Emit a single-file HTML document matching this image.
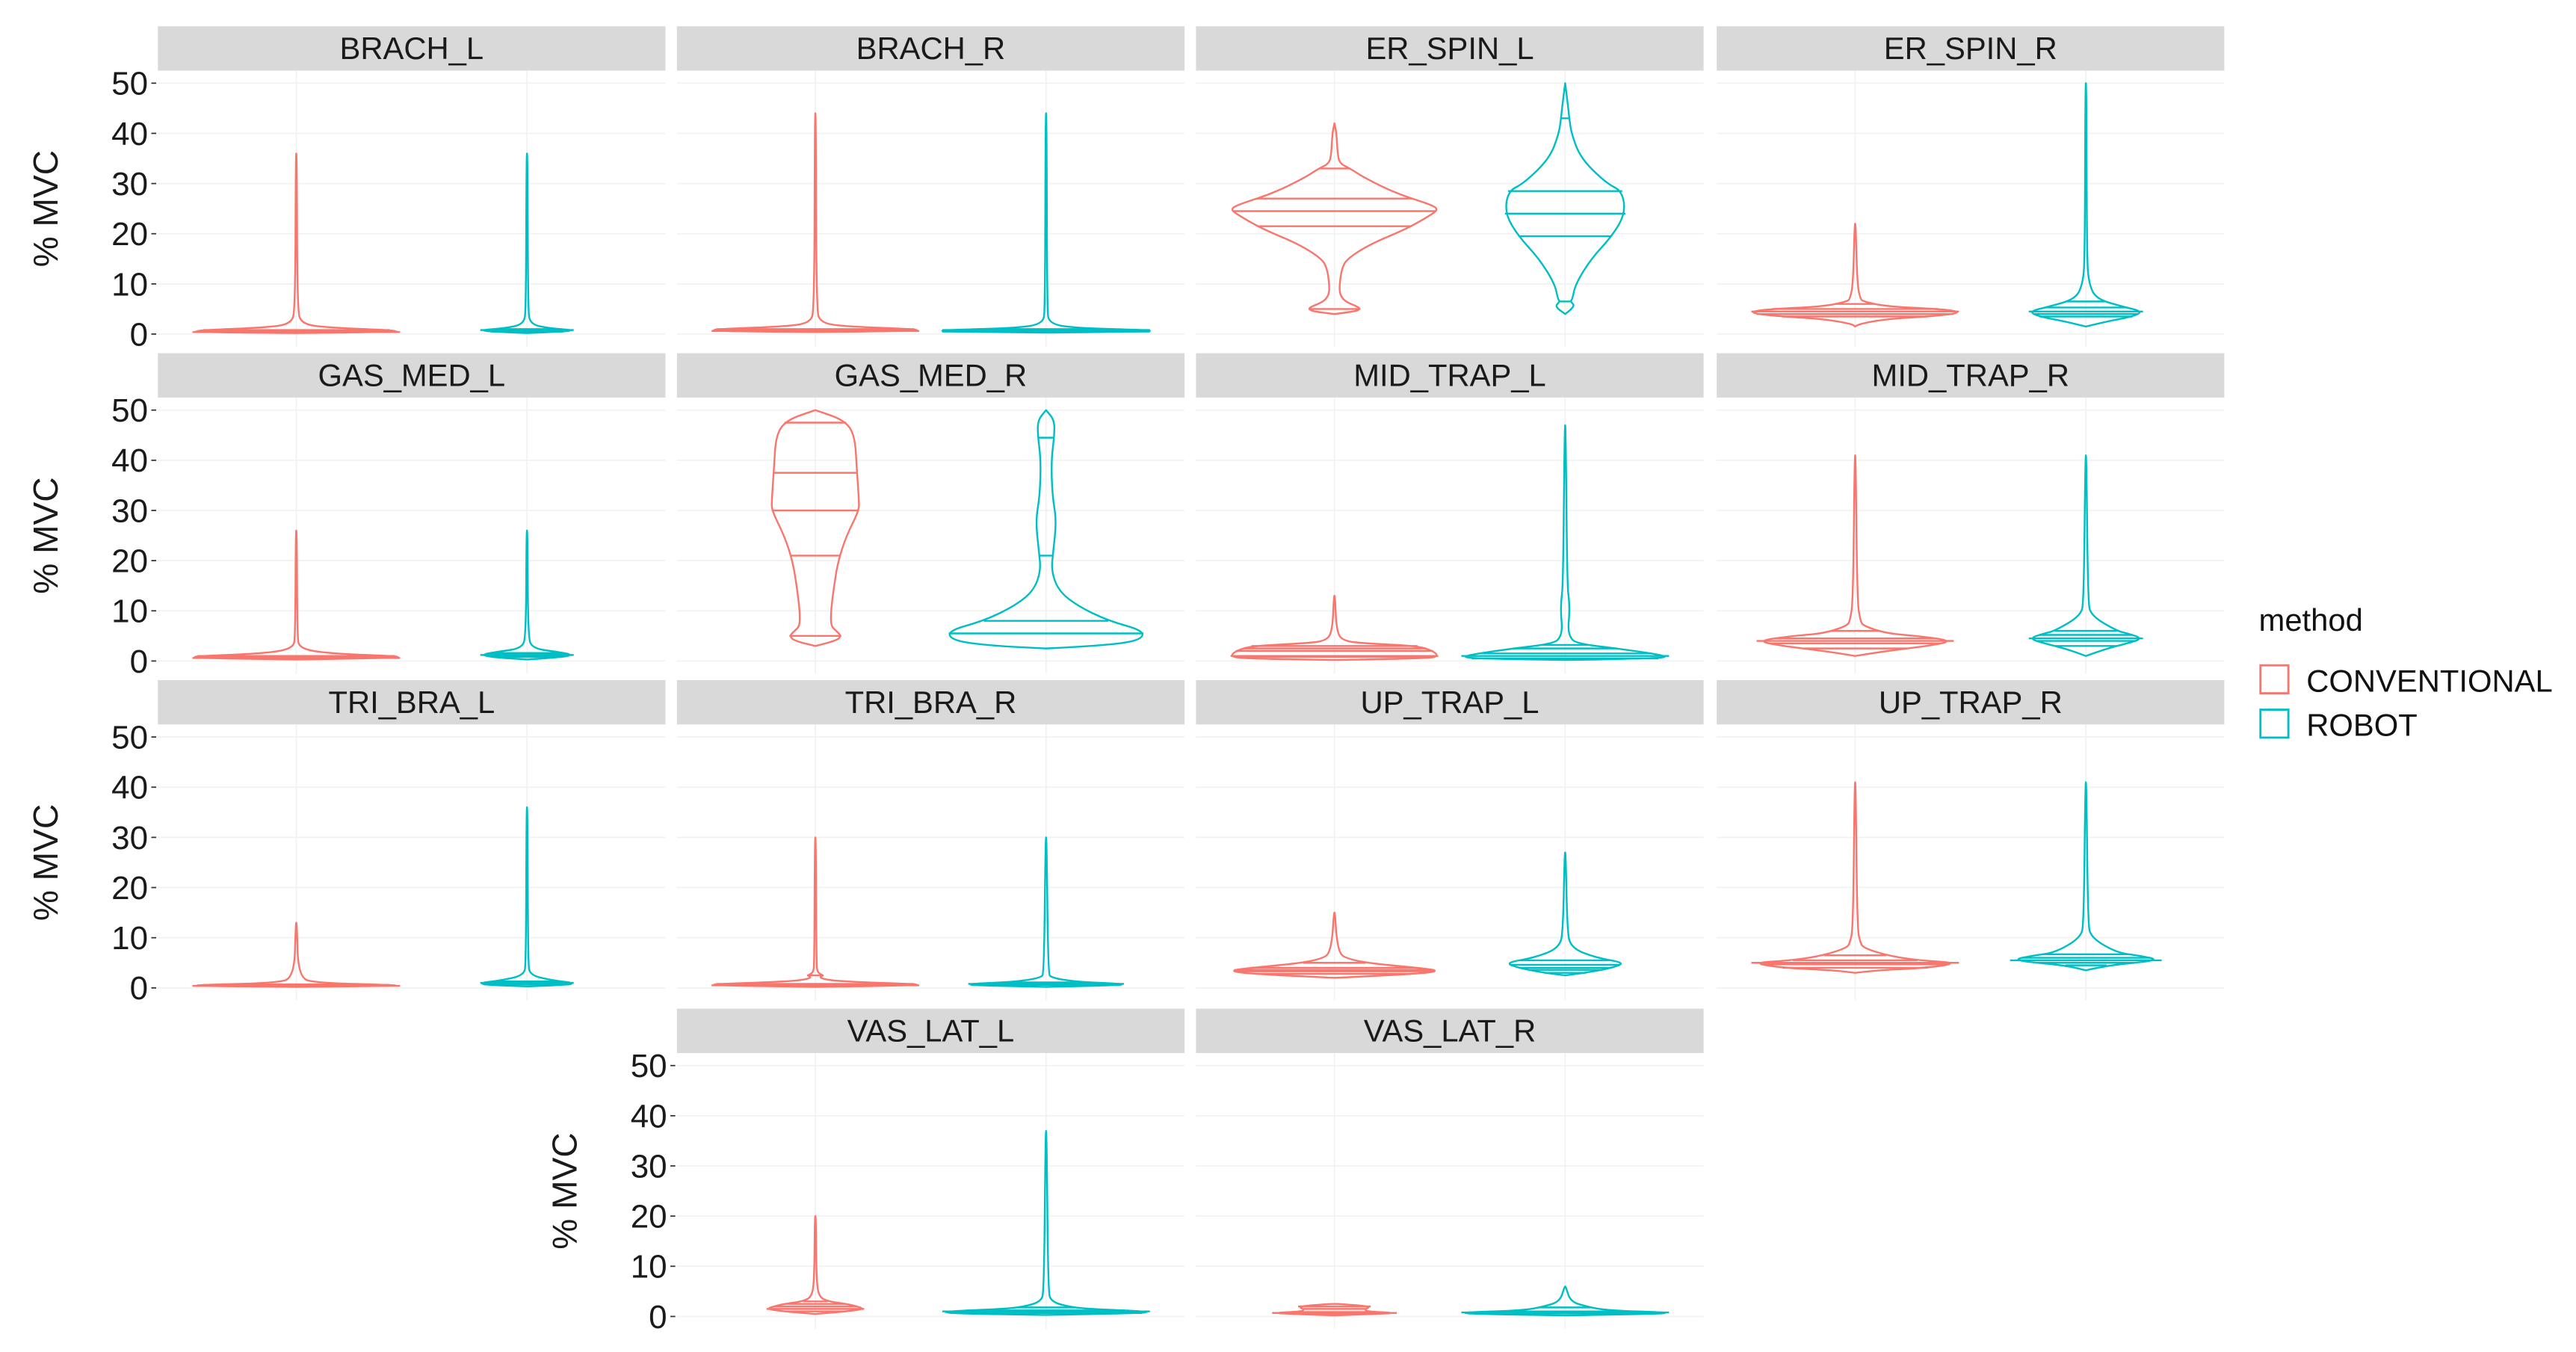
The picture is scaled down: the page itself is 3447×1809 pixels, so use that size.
<!DOCTYPE html>
<html><head><meta charset="utf-8"><style>
html,body{margin:0;padding:0;background:#fff}
svg{display:block}
</style></head><body>
<svg id="chart" xmlns="http://www.w3.org/2000/svg" width="3447" height="1809" viewBox="0 0 1568 823">
<rect x="0" y="0" width="1568" height="823" fill="#fff"/>
<g id="panels"></g>
<g id="legend">
  <text x="1375" y="384" font-family="Liberation Sans, sans-serif" font-size="19" fill="#111">method</text>
  <rect x="1376" y="405" width="17" height="17" fill="#fff" stroke="#F8766D" stroke-width="1.3"/>
  <text x="1404" y="421" font-family="Liberation Sans, sans-serif" font-size="19" fill="#111">CONVENTIONAL</text>
  <rect x="1376" y="432" width="17" height="17" fill="#fff" stroke="#00BFC4" stroke-width="1.3"/>
  <text x="1404" y="448" font-family="Liberation Sans, sans-serif" font-size="19" fill="#111">ROBOT</text>
</g>
</svg>
<script>
const panelNames = ["BRACH_L","BRACH_R","ER_SPIN_L","ER_SPIN_R","GAS_MED_L","GAS_MED_R","MID_TRAP_L","MID_TRAP_R","TRI_BRA_L","TRI_BRA_R","UP_TRAP_L","UP_TRAP_R","VAS_LAT_L","VAS_LAT_R"];
const yTicks = [0,10,20,30,40,50];
const yTickLabels = ["0","10","20","30","40","50"];
const convValues = [
 [0.2,0.4,0.8,1.3,2,5,36],
 [0.4,0.6,1.0,1.5,2.2,5,44],
 [4,4.5,5,5.5,6.5,8,10,13,15,18,21,24,25,26,28,31,33,34,36,40,42],
 [1.5,2,3,3.5,4,4.5,5,5.5,6.5,7,10,22],
 [0.3,0.6,1,1.5,2.5,5,26],
 [3,4,5,6,7,10,15,20,25,30,32,38,45,48,50],
 [0.2,0.5,1,2,3,3.5,4,6,13],
 [1,2,3,4,5,5.5,7,8,12,41],
 [0.2,0.4,0.6,1,2,13],
 [0.2,0.5,0.8,1.3,2,2.5,3,5,30],
 [2,2.5,3,3.5,4,5,6,7,10,15],
 [3,3.5,4,5,5.5,6.5,8,9,12,41],
 [0.5,1,1.5,2,2.5,3,4,8,20],
 [0.2,0.5,0.7,1,1.5,2,2.5,2.5]
];
const convWidths = [
 [0,1.0,0.9,0.3,0.05,0.01,0.005],
 [0,1.0,0.95,0.3,0.05,0.01,0.005],
 [0,0.2,0.25,0.22,0.1,0.05,0.05,0.07,0.12,0.35,0.7,0.95,1.0,0.9,0.6,0.3,0.15,0.05,0.03,0.02,0],
 [0,0.03,0.3,0.7,0.95,1.0,0.8,0.3,0.08,0.05,0.02,0.005],
 [0,1.0,0.95,0.3,0.03,0.01,0.005],
 [0,0.2,0.25,0.2,0.15,0.15,0.18,0.22,0.3,0.42,0.42,0.4,0.38,0.28,0],
 [0,0.9,1.0,0.95,0.8,0.3,0.08,0.02,0.005],
 [0,0.3,0.7,0.95,0.6,0.3,0.08,0.05,0.02,0.005],
 [0,1.0,0.9,0.2,0.02,0.005],
 [0,1.0,0.95,0.2,0.03,0.08,0.02,0.01,0.005],
 [0,0.5,0.9,1.0,0.8,0.3,0.1,0.05,0.02,0.005],
 [0,0.2,0.7,1.0,0.6,0.3,0.08,0.05,0.02,0.005],
 [0,0.3,0.47,0.4,0.3,0.12,0.03,0.01,0.005],
 [0,0.4,0.6,0.3,0.3,0.35,0.05,0]
];
const convQuantiles = [
 [0.4,0.5,0.6,0.7,0.8],[0.6,0.7,0.8,0.9,1.0],[5,21.5,24.5,27,33],[3.5,4,4.5,5,6],
 [0.6,0.7,0.8,0.9,1.0],[5,21,30,37.5,47.5],[0.8,1,2,2.5,3],[2.5,3.5,4,4.5,6],
 [0.3,0.4,0.5,0.6,0.7],[0.5,0.6,0.7,0.8,2.5],[2.8,3.3,3.6,4,5],[4,4.7,5,5.5,6.5],
 [1,1.5,2,2.5,3],[0.5,0.7,0.9,1.5,2]
];
const robotValues = [
 [0.2,0.5,0.8,1.2,2,5,36],
 [0.3,0.5,0.8,1.2,2,5,44],
 [4,5.5,6.5,7,10,15,19.5,24,28.5,30,35,40,43,45,50],
 [1.5,2.5,3.5,4.5,5.5,7,10,15,50],
 [0.3,0.7,1.2,1.8,2.5,5,26],
 [2.5,3,4,6,8,11,14,18,22,28,33,40,45,48,50],
 [0.2,0.5,1,2.5,3.5,5,7,9,12,15,47],
 [1,2.5,3.5,4.5,5.5,6,9,12,41],
 [0.3,0.6,1,1.5,2.5,5,36],
 [0.2,0.5,0.8,1.2,2,3,30],
 [2.5,3,4,5,6,8,12,27],
 [3.5,4.5,5.5,6.5,7,10,13,41],
 [0.3,0.6,1,1.5,2,3,5,37],
 [0.2,0.5,0.8,1.2,2,3,6]
];
const robotWidths = [
 [0,0.35,0.45,0.2,0.03,0.01,0.005],
 [0,1.0,1.0,0.3,0.03,0.01,0.005],
 [0,0.1,0.05,0.07,0.1,0.25,0.45,0.58,0.55,0.4,0.15,0.06,0.04,0.03,0],
 [0,0.2,0.45,0.55,0.35,0.1,0.03,0.01,0.005],
 [0,0.3,0.45,0.3,0.05,0.01,0.005],
 [0,0.5,0.9,0.95,0.6,0.3,0.12,0.05,0.07,0.1,0.06,0.05,0.08,0.08,0],
 [0,0.9,1.0,0.5,0.1,0.04,0.03,0.04,0.04,0.02,0.005],
 [0,0.2,0.4,0.55,0.4,0.3,0.05,0.02,0.005],
 [0,0.4,0.45,0.25,0.03,0.01,0.005],
 [0,0.7,0.75,0.3,0.05,0.02,0.005],
 [0,0.2,0.45,0.58,0.3,0.05,0.02,0.005],
 [0,0.2,0.73,0.5,0.3,0.05,0.02,0.005],
 [0,0.9,1.0,0.4,0.2,0.05,0.02,0.005],
 [0,0.9,1.0,0.4,0.2,0.05,0.005]
];
const robotQuantiles = [
 [0.5,0.6,0.7,0.8,1.0],[0.5,0.6,0.7,0.8,1.0],[6.5,19.5,24,28.5,43],[3.5,4,4.5,5.3,6.5],
 [0.8,1,1.2,1.4,1.6],[2.5,5.5,8,21,44.5],[0.5,1,1.5,2.5,3.2],[3,4,4.5,5.2,6],
 [0.7,0.9,1,1.1,1.3],[0.6,0.7,0.8,0.9,1.1],[3,3.6,4,4.6,5.5],[4.5,5,5.5,6,6.7],
 [0.7,0.9,1,1.2,1.8],[0.6,0.7,0.8,1,1.8]
];

const rowTops=[43,242,441,641], colLefts=[96,412,728,1045];
const PW=309, PH=168;
const NS="http://www.w3.org/2000/svg";
const root=document.getElementById('panels');
function mk(tag,attrs,parent){const e=document.createElementNS(NS,tag);for(const k in attrs)e.setAttribute(k,attrs[k]);parent.appendChild(e);return e;}
function interp(vals,ws,v){if(v<=vals[0])return ws[0];for(let i=1;i<vals.length;i++){if(v<=vals[i]){const t=(v-vals[i-1])/((vals[i]-vals[i-1])||1);return ws[i-1]+t*(ws[i]-ws[i-1]);}}return ws[ws.length-1];}
// smooth path through points via midpoint quadratic curves
function smooth(pts){
  let d='M'+pts[0][0].toFixed(2)+','+pts[0][1].toFixed(2);
  for(let i=1;i<pts.length-1;i++){
    const mx=(pts[i][0]+pts[i+1][0])/2, my=(pts[i][1]+pts[i+1][1])/2;
    d+='Q'+pts[i][0].toFixed(2)+','+pts[i][1].toFixed(2)+' '+mx.toFixed(2)+','+my.toFixed(2);
  }
  const l=pts[pts.length-1];
  d+='L'+l[0].toFixed(2)+','+l[1].toFixed(2);
  return d;
}

panelNames.forEach((name,p)=>{
  let r=Math.floor(p/4), c=p%4;
  if(p>=12){r=3;c=p-11;}
  const L=colLefts[c], T=rowTops[r];
  const ys=v=>T+(52.5-v)/55*PH;
  const xs=k=>L+(k-0.4)/2.2*PW;
  const maxHW=0.45*PW/2.2;
  const g=mk('g',{},root);
  
  
  const s=mk('rect',{x:L,y:T-27,width:PW,height:27,fill:'#d9d9d9'},g);
  
  
  const st=mk('text',{x:L+PW/2,y:T-7,'text-anchor':'middle','font-family':'Liberation Sans Narrow, Liberation Sans, sans-serif','font-size':'19',fill:'#1a1a1a'},g);
  st.textContent=name;
  
  
  yTicks.forEach(t=>{const gl=mk('line',{x1:L,x2:L+PW,y1:ys(t),y2:ys(t),stroke:'#f2f2f2','stroke-width':'0.8'},g);
    });
  [1,2].forEach(k=>{const gl=mk('line',{x1:xs(k),x2:xs(k),y1:T,y2:T+PH,stroke:'#f2f2f2','stroke-width':'0.8'},g);
    });
  if(c===0||p===12){
    yTicks.forEach((t,i)=>{
      const tk=mk('line',{x1:L-4,x2:L-1,y1:ys(t),y2:ys(t),stroke:'#333','stroke-width':'0.8'},g);
      
      const tl=mk('text',{x:L-6,y:ys(t)+7,'text-anchor':'end','font-family':'Liberation Sans Narrow, Liberation Sans, sans-serif','font-size':'20',fill:'#1a1a1a'},g);
      tl.textContent=yTickLabels[i];
      
    });
    const yt=mk('text',{x:0,y:0,'text-anchor':'middle','font-family':'Liberation Sans, sans-serif','font-size':'21',fill:'#1a1a1a',transform:`translate(${L-61},${T+PH/2}) rotate(-90)`},g);
    yt.textContent='% MVC';
    
  }
  [[convValues,convWidths,convQuantiles,'#F8766D','conventional',1],[robotValues,robotWidths,robotQuantiles,'#00BFC4','robot',2]].forEach(([V,W,Q,col,lab,k])=>{
    const vals=V[p], ws=W[p], cx=xs(k);
    const pts=[];
    vals.forEach((v,i)=>pts.push([cx+ws[i]*maxHW,ys(v)]));
    for(let i=vals.length-1;i>=0;i--)pts.push([cx-ws[i]*maxHW,ys(vals[i])]);
    const d=smooth(pts)+'Z';
    const vp=mk('path',{d:d,fill:'none',stroke:col,'stroke-width':'1.1','stroke-linejoin':'round'},g);
    
    
    Q[p].forEach(q=>{
      const hw=interp(vals,ws,q)*maxHW;
      const ql=mk('line',{x1:cx-hw,x2:cx+hw,y1:ys(q),y2:ys(q),stroke:col,'stroke-width':'1.1'},g);
      
      
    });
  });
});
</script>
</body></html>
